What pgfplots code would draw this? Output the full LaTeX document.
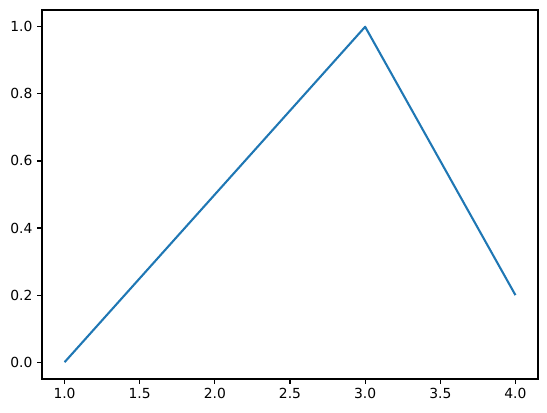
\documentclass[border=0pt]{standalone}
\usepackage{pgfplots}
\pgfplotsset{compat=1.18}
\usepackage{fontspec}
\setmainfont{DejaVu Sans}
\definecolor{tabblue}{HTML}{1F77B4}
\begin{document}
\begin{tikzpicture}
\begin{axis}[
  at={(0,0)}, anchor=south west,
  scale only axis,
  width=372pt, height=276.75pt,
  xmin=0.85, xmax=4.15, ymin=-0.05, ymax=1.05,
  xtick={1,1.5,2,2.5,3,3.5,4},
  ytick={0,0.2,0.4,0.6,0.8,1.0},
  tick align=outside,
  major tick length=3.65pt,
  tick style={line width=0.83pt, black},
  axis line style={line width=0.83pt},
  tick label style={font=\fontsize{10.4}{12}\selectfont},
  /pgf/number format/assume math mode=true,
  /pgf/number format/.cd, fixed, fixed zerofill, precision=1,
  /pgfplots/.cd,
  xtick pos=bottom, ytick pos=left,
  minor tick num=0,
]
\addplot[color=tabblue, line width=1.56pt, mark=none, line join=round] coordinates {(1,0) (2,0.5) (3,1) (4,0.2)};
\end{axis}
\pgfresetboundingbox
\path[use as bounding box] (-31.5pt,-25.5pt) rectangle (378.75pt,284.25pt);
\end{tikzpicture}
\end{document}
